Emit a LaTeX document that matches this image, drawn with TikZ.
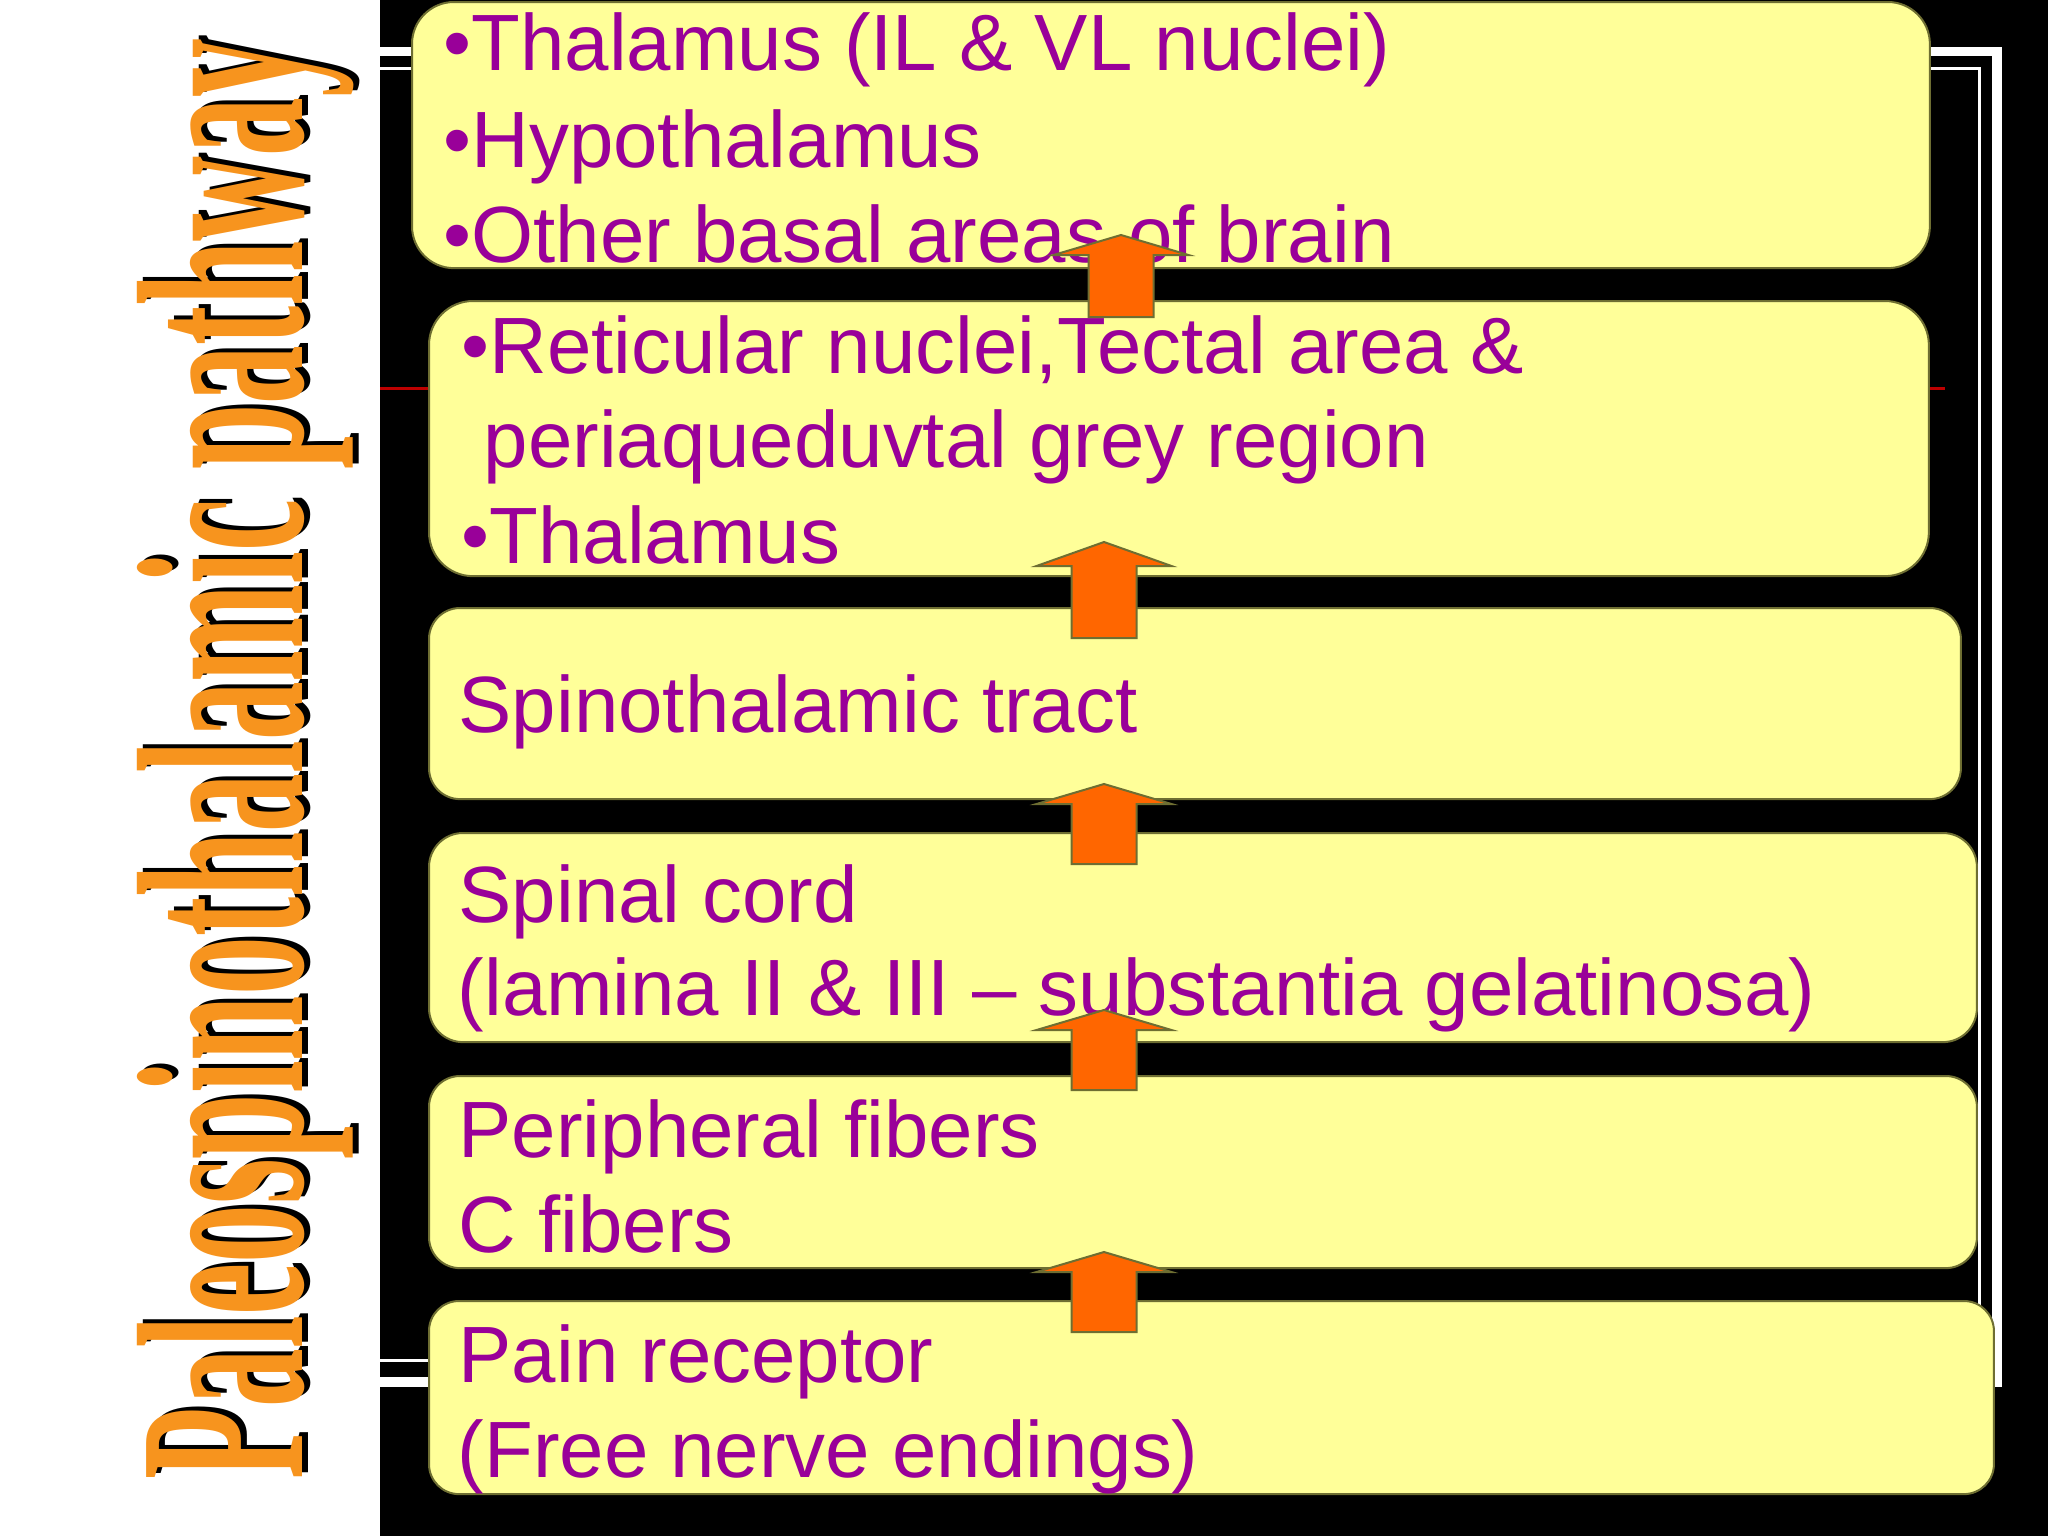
\documentclass[tikz,border=0pt]{standalone}
\usepackage{graphicx}
\usepackage{fontspec}
\setmainfont{Liberation Sans}
\newfontfamily\titlefont{Liberation Serif}
\definecolor{boxfill}{RGB}{255,255,153}
\definecolor{boxline}{RGB}{110,110,50}
\definecolor{txtpurple}{RGB}{153,0,153}
\definecolor{arrfill}{RGB}{255,102,0}
\definecolor{titleorange}{RGB}{247,148,30}
\definecolor{framered}{RGB}{190,0,0}
\tikzset{
  stagebox/.style={draw=boxline, line width=0.02cm, fill=boxfill, rectangle, inner sep=0pt, anchor=north west},
  stagetext/.style={anchor=base west, inner sep=0pt, text=txtpurple, font=\fontsize{22.7pt}{26.8pt}\selectfont},
  uparrow/.style={draw=boxline, line width=0.02cm, fill=arrfill, line join=miter},
  titletext/.style={rotate=90, anchor=base west, inner sep=0pt, font=\titlefont\bfseries\fontsize{67.7pt}{70pt}\selectfont}
}
\newcommand\blockarrow[5]{%
  \coordinate (#1) at (#2,#3);
  \draw[uparrow] (#1) -- ++(67.5,#4) -- ++(-35,0) -- ++(0,#5-#4) -- ++(-65,0) -- ++(0,#4-#5) -- ++(-35,0) -- cycle;
}
\begin{document}
\begin{tikzpicture}[x=0.01cm,y=-0.01cm]
\useasboundingbox (0,0) rectangle (2048,1536);
\fill[black] (0,0) rectangle (2048,1536);
\fill[white] (0,0) rectangle (380,1536);
% frame lines
\draw[white, line width=0.095cm] (380,51.5) -- (1997,51.5) -- (1997,1382) -- (380,1382);
\draw[white, line width=0.03cm] (380,68) -- (1979,68) -- (1979,1360) -- (380,1360);
\draw[framered, line width=0.03cm] (380,388) -- (1945,388);
% title
\node[titletext, text=black] (titleshadow) at (308,1476) {\scalebox{0.494}[1]{Paleospinothalamic pathway}};
\node[titletext, text=titleorange] (title) at (302,1480) {\scalebox{0.494}[1]{Paleospinothalamic pathway}};
% boxes
\node[stagebox, minimum width=15.17cm, minimum height=2.66cm, rounded corners=0.42cm] (b1) at (411,1) {};
\node[stagebox, minimum width=14.99cm, minimum height=2.75cm, rounded corners=0.44cm] (b2) at (428,300) {};
\node[stagebox, minimum width=15.31cm, minimum height=1.91cm, rounded corners=0.31cm] (b3) at (428,607) {};
\node[stagebox, minimum width=15.47cm, minimum height=2.09cm, rounded corners=0.34cm] (b4) at (428,832) {};
\node[stagebox, minimum width=15.47cm, minimum height=1.92cm, rounded corners=0.31cm] (b5) at (428,1075) {};
\node[stagebox, minimum width=15.64cm, minimum height=1.93cm, rounded corners=0.30cm] (b6) at (428,1300) {};
% texts
\node[stagetext] (t1a) at (443,70) {•Thalamus (IL \& VL nuclei)};
\node[stagetext] (t1b) at (443,167) {•Hypothalamus};
\node[stagetext] (t1c) at (443,262) {•Other basal areas of brain};
\node[stagetext] (t2a) at (461,373) {•Reticular nuclei,Tectal area \&};
\node[stagetext] (t2b) at (483,467) {periaqueduvtal grey region};
\node[stagetext] (t2c) at (461,563) {•Thalamus};
\node[stagetext] (t3a) at (458,732) {Spinothalamic tract};
\node[stagetext] (t4a) at (458,922) {Spinal cord};
\node[stagetext] (t4b) at (457,1015) {(lamina II \& III – substantia gelatinosa)};
\node[stagetext] (t5a) at (458,1157) {Peripheral fibers};
\node[stagetext] (t5b) at (458,1252) {C fibers};
\node[stagetext] (t6a) at (458,1382) {Pain receptor};
\node[stagetext] (t6b) at (457,1477) {(Free nerve endings)};
% arrows
\blockarrow{a1}{1121}{235}{20}{82}
\blockarrow{a2}{1104}{542}{24}{96}
\blockarrow{a3}{1104}{784}{20}{80}
\blockarrow{a4}{1104}{1010}{20}{80}
\blockarrow{a5}{1104}{1252}{20}{80}
\end{tikzpicture}
\end{document}
